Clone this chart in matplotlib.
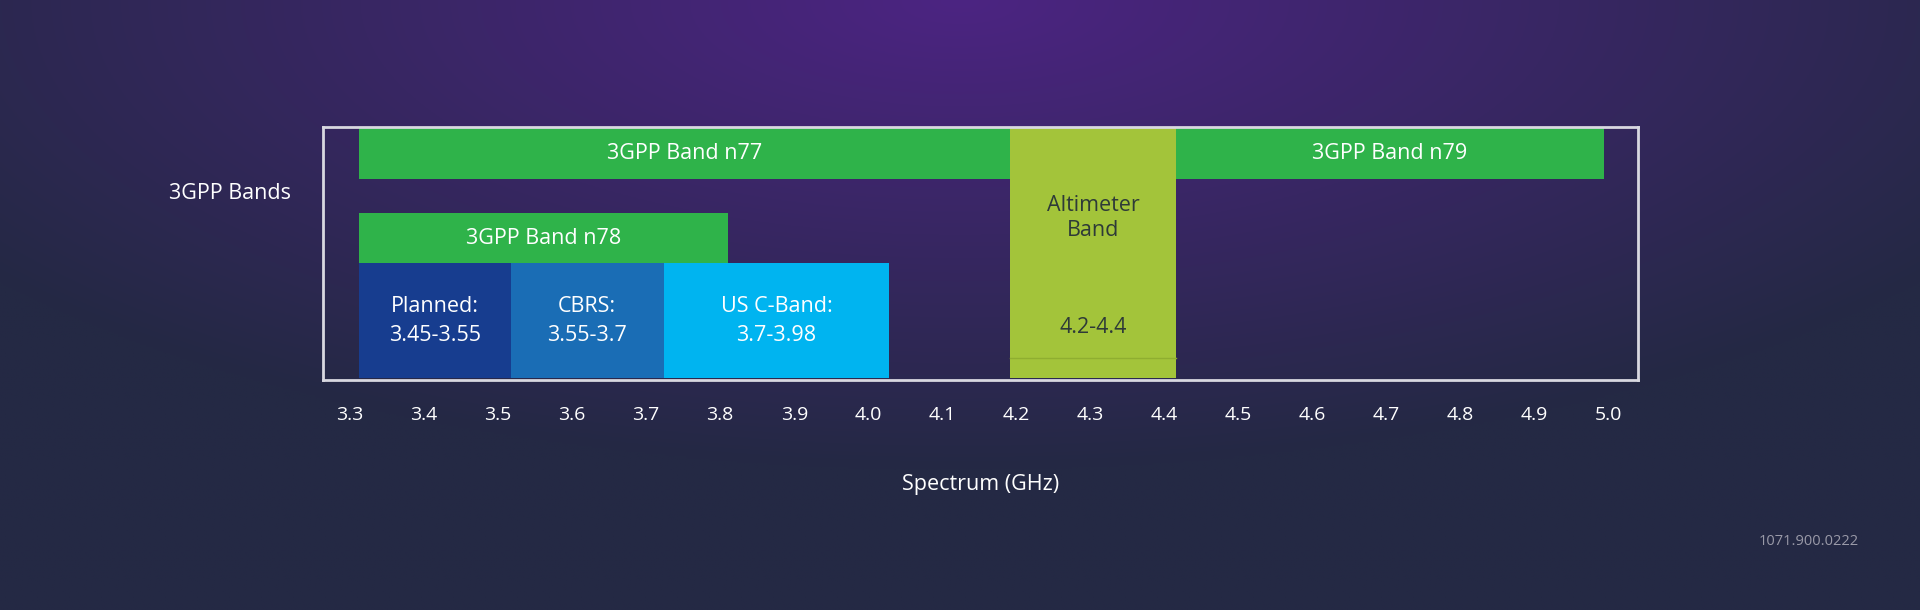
import numpy as np
import matplotlib.pyplot as plt

plt.rcParams['font.family'] = ['Open Sans', 'DejaVu Sans']

# bands: label, start, end (GHz), top, bottom (row positions), colour
band_labels = ['3GPP Band n77', '3GPP Band n79', '3GPP Band n78',
               'Planned:\n3.45-3.55', 'CBRS:\n3.55-3.7', 'US C-Band:\n3.7-3.98']
band_start = [3.312, 4.415, 3.312, 3.312, 3.517, 3.724]
band_end = [4.192, 4.994, 3.811, 3.517, 3.724, 4.028]
band_top = [104, 104, 174, 215, 215, 215]
band_bottom = [146, 146, 215, 309, 309, 309]
band_colors = ['#2fb34a', '#2fb34a', '#2fb34a', '#173d8f', '#1a6db5', '#00b4f0']

alt_start, alt_end = 4.192, 4.415
ticks = np.round(np.arange(3.3, 5.01, 0.1), 1)

fig = plt.figure(figsize=(19.2, 6.1), dpi=100)

# background gradient
bg = fig.add_axes([0, 0, 1, 1])
yy, xx = np.mgrid[0:1:300j, 0:1:900j]
d = np.sqrt(((xx - 0.5) * 1.6) ** 2 + (yy * 1.3) ** 2)
d = np.clip(d, 0, 1)
top = np.array([0x4c, 0x24, 0x82]) / 255
bot = np.array([0x24, 0x29, 0x44]) / 255
img = top[None, None, :] * (1 - d[..., None]) + bot[None, None, :] * d[..., None]
bg.imshow(img, aspect='auto', extent=[0, 1, 1, 0])
bg.axis('off')

ax = fig.add_axes([264 / 1568, 1 - 310 / 498, (1338 - 264) / 1568, 206 / 498])
ax.set_facecolor('none')
ax.set_xlim(3.264, 5.04)
ax.set_ylim(310, 104)

for lab, s, e, t, b, c in zip(band_labels, band_start, band_end, band_top, band_bottom, band_colors):
    ax.fill_between([s, e], t, b, color=c, lw=0)
    ax.text((s + e) / 2, (t + b) / 2, lab, ha='center', va='center', color='white',
            fontsize=15.5, linespacing=1.5)

ax.fill_between([alt_start, alt_end], 104, 309, color='#a3c43a', lw=0)
ax.plot([alt_start, alt_end], [292, 292], color='#8fae30', lw=1)
ax.text((alt_start + alt_end) / 2, 178, 'Altimeter\nBand', ha='center', va='center',
        color='#2e3a38', fontsize=15.5, linespacing=1.3)
ax.text((alt_start + alt_end) / 2, 267, '4.2-4.4', ha='center', va='center',
        color='#2e3a38', fontsize=15.5)

for sp in ax.spines.values():
    sp.set_color('#d8d8e0')
    sp.set_linewidth(2)
ax.set_yticks([])
ax.set_xticks(ticks)
ax.set_xticklabels([f'{t:.1f}' for t in ticks], color='white', fontsize=14)
ax.tick_params(axis='x', length=0, pad=19)
ax.set_xlabel('Spectrum (GHz)', color='white', fontsize=15.5, labelpad=36)

fig.text(138 / 1568, 1 - 158 / 498, '3GPP Bands', color='white', fontsize=15.5, va='center')
fig.text(1518 / 1568, 1 - 442 / 498, '1071.900.0222', color='#9a9aa8', fontsize=10.5,
         ha='right', va='center')

fig.savefig('out.png', dpi=100)
